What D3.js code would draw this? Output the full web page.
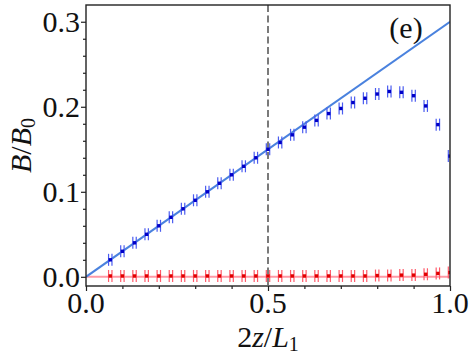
<!DOCTYPE html>
<html><head><meta charset="utf-8">
<script src="https://cdn.jsdelivr.net/npm/d3@7"></script>
<style>body{margin:0;background:#fff}svg{display:block}</style>
</head><body>
<script>
// data
const xPos = [2,3,4,5,6,7,8,9,10,11,12,13,14,15,16,17,18,19,20,21,22,23,24,25,26,27,28,29,30].map(k => k/30);
const blueVals = [0.020,0.030,0.040,0.050,0.060,0.070,0.080,0.090,0.100,0.110,0.120,0.130,0.140,0.150,0.158,0.167,0.176,0.184,0.192,0.198,0.205,0.210,0.215,0.218,0.217,0.213,0.201,0.179,0.142];
const redVals  = [0.001,0.001,0.001,0.001,0.001,0.001,0.001,0.001,0.001,0.001,0.001,0.001,0.001,0.001,0.001,0.001,0.001,0.001,0.001,0.001,0.001,0.001,0.0015,0.0015,0.002,0.002,0.003,0.004,0.005];
const slope = 0.3;
const xTicks = [0.0,0.5,1.0];
const yTicks = [0.0,0.1,0.2,0.3];
const xMinor = [0.1,0.2,0.3,0.4,0.6,0.7,0.8,0.9];
const yMinor = [0.02,0.04,0.06,0.08,0.12,0.14,0.16,0.18,0.22,0.24,0.26,0.28];

const W=474,H=358;
const m={l:86,t:5,r:450,b:286};
const FONT='"Liberation Serif"';
const FS=30;
const svg=d3.select("body").append("svg").attr("width",W).attr("height",H);
const x=d3.scaleLinear().domain([0,1]).range([m.l,m.r]);
const y=d3.scaleLinear().domain([-0.0108,0.3197]).range([m.b,m.t]);
const fmt=d3.format(".1f");

svg.append("defs").append("clipPath").attr("id","clip").append("rect")
  .attr("x",m.l).attr("y",m.t).attr("width",m.r-m.l).attr("height",m.b-m.t);
const g=svg.append("g").attr("clip-path","url(#clip)");

// dashed vertical line
g.append("line").attr("x1",x(0.5)).attr("x2",x(0.5)).attr("y1",m.t).attr("y2",m.b)
  .attr("stroke","#7a7a7a").attr("stroke-width",2).attr("stroke-dasharray","7,3.5");

// lines
g.append("line").attr("x1",x(0)).attr("x2",x(1)).attr("y1",y(0)).attr("y2",y(0))
  .attr("stroke","#ff9aa6").attr("stroke-width",2);
g.append("line").attr("x1",x(0)).attr("x2",x(1)).attr("y1",y(0)).attr("y2",y(slope))
  .attr("stroke","#4a82de").attr("stroke-width",2);

function drawSeries(vals, barCol, mkCol){
  const s=g.append("g");
  vals.forEach((v,i)=>{
    const cx=x(xPos[i]), cy=y(v);
    [-1.7,1.7].forEach(dx=>{
      s.append("line").attr("x1",cx+dx).attr("x2",cx+dx).attr("y1",cy-6).attr("y2",cy+6)
        .attr("stroke",barCol).attr("stroke-width",1.2);
    });
    s.append("rect").attr("x",cx-1.7).attr("y",cy-1.7).attr("width",3.4).attr("height",3.4).attr("fill",mkCol);
  });
}
drawSeries(redVals,"#ff5a6a","#e00000");
drawSeries(blueVals,"#4a5cf0","#0000c8");

// frame
svg.append("rect").attr("x",m.l).attr("y",m.t).attr("width",m.r-m.l).attr("height",m.b-m.t)
  .attr("fill","none").attr("stroke","#222").attr("stroke-width",1.4);

// axes (tick marks only via d3 axis)
const xa=svg.append("g").attr("transform",`translate(0,${m.b})`)
  .call(d3.axisBottom(x).tickValues(xTicks).tickFormat("").tickSize(5));
const xm=svg.append("g").attr("transform",`translate(0,${m.b})`)
  .call(d3.axisBottom(x).tickValues(xMinor).tickFormat("").tickSize(3));
const ya=svg.append("g").attr("transform",`translate(${m.l},0)`)
  .call(d3.axisLeft(y).tickValues(yTicks).tickFormat("").tickSize(5));
const ym=svg.append("g").attr("transform",`translate(${m.l},0)`)
  .call(d3.axisLeft(y).tickValues(yMinor).tickFormat("").tickSize(3));
[xa,xm,ya,ym].forEach(a=>{
  a.select(".domain").remove();
  a.selectAll("text").remove();
  a.selectAll(".tick line").attr("stroke","#222").attr("stroke-width",1.2);
});

// tick labels
svg.append("g").selectAll("text").data(xTicks).join("text")
  .attr("x",d=>x(d)).attr("y",m.b+27).attr("text-anchor","middle")
  .style("font-family",FONT).style("font-size",FS+"px").attr("fill","#111").text(fmt);
svg.append("g").selectAll("text").data(yTicks).join("text")
  .attr("x",m.l-6).attr("y",d=>y(d)+10).attr("text-anchor","end")
  .style("font-family",FONT).style("font-size",FS+"px").attr("fill","#111").text(fmt);

// labels
const xl=svg.append("text").attr("x",x(0.5)).attr("y",347).attr("text-anchor","middle")
  .style("font-family",FONT).style("font-size",FS+"px").attr("fill","#111");
xl.append("tspan").text("2");
xl.append("tspan").style("font-style","italic").text("z");
xl.append("tspan").text("/");
xl.append("tspan").style("font-style","italic").text("L");
xl.append("tspan").style("font-size","20px").attr("dy",4).text("1");

const yl=svg.append("text").attr("transform",`translate(31,${(m.t+m.b)/2}) rotate(-90)`)
  .attr("text-anchor","middle").style("font-family",FONT).style("font-size",FS+"px").attr("fill","#111");
yl.append("tspan").style("font-style","italic").text("B");
yl.append("tspan").text("/");
yl.append("tspan").style("font-style","italic").text("B");
yl.append("tspan").style("font-size","20px").attr("dy",4).text("0");

svg.append("text").attr("x",406).attr("y",38).attr("text-anchor","middle")
  .style("font-family",FONT).style("font-size",FS+"px").attr("fill","#111").text("(e)");
</script>
</body></html>
